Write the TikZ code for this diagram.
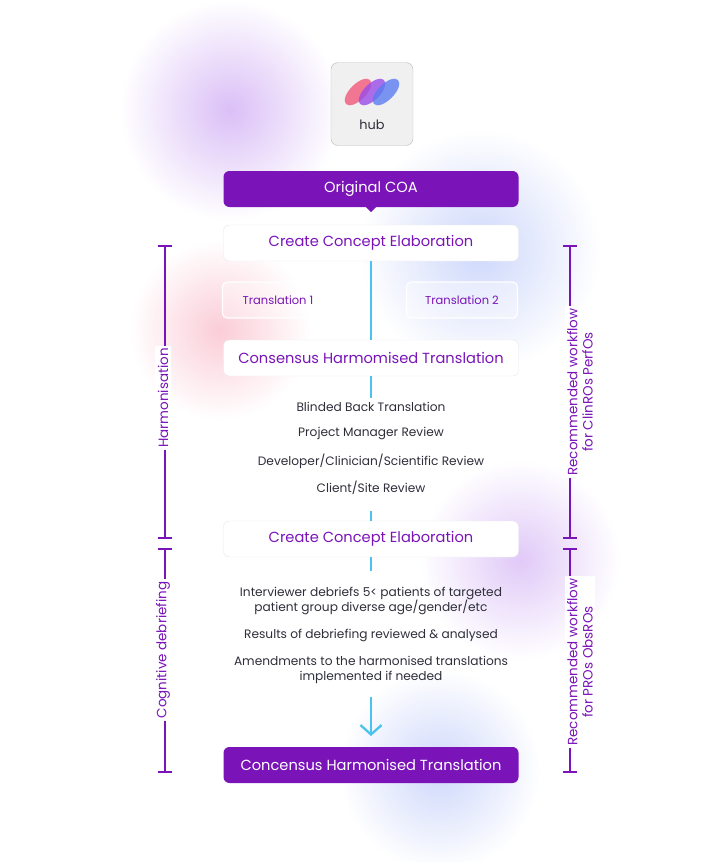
\documentclass[tikz,border=0pt]{standalone}
\usepackage{fontspec}
\setmainfont{Poppins}
\usetikzlibrary{positioning, arrows.meta, fadings}
\definecolor{HubPurple}{HTML}{7A14B8}
\definecolor{HubCyan}{HTML}{4CC3EE}
\definecolor{HubText}{HTML}{2E2E3A}
\definecolor{HubPink}{HTML}{F2587A}
\definecolor{HubBlue}{HTML}{5A7CF0}
\definecolor{HubViolet}{HTML}{9A4CE8}
\tikzfading[name=blob, inner color=transparent!40, outer color=transparent!100]
\tikzset{
  darkbox/.style={draw=none, fill=HubPurple, rounded corners=5pt, minimum width=295*0.03cm, minimum height=36*0.03cm, text=white, font=\fontsize{12.5}{14}\selectfont},
  lightbox/.style={draw=black!8, fill=white, rounded corners=5pt, minimum width=295*0.03cm, minimum height=36*0.03cm, text=HubPurple, font=\fontsize{12.5}{14}\selectfont},
  transbox/.style={draw=white, line width=1pt, fill=white, fill opacity=0.35, text opacity=1, rounded corners=4pt, minimum width=111*0.03cm, minimum height=36*0.03cm, text=HubPurple, font=\fontsize{9.8}{11}\selectfont},
  steptext/.style={text=HubText, align=center, font=\fontsize{10.4}{13.5}\selectfont},
  sidelabel/.style={text=HubPurple, rotate=90, fill=white, align=center, inner sep=2pt, font=\fontsize{11.5}{13}\selectfont},
  bracket/.style={HubPurple, line width=1pt},
  flowline/.style={HubCyan, line width=2pt},
  blobfill/.style={fill=#1, path fading=blob},
}
\begin{document}
\begin{tikzpicture}[x=0.03cm, y=-0.03cm]
    \useasboundingbox (0,0) rectangle (720,862);
    % soft background blobs
    \fill[blobfill=HubViolet!60] (230,110) circle (110);
    \fill[blobfill=HubBlue!50] (480,250) circle (120);
    \fill[blobfill=HubPink!50] (220,330) circle (90);
    \fill[blobfill=HubViolet!50] (520,560) circle (100);
    \fill[blobfill=HubBlue!50] (440,770) circle (100);

    % hub logo
    \node[draw=black!25, fill=black!6, rounded corners=6pt, minimum width=82*0.03cm, minimum height=83*0.03cm] (hub) at (372,104) {};
    \node[text=HubText, font=\fontsize{11}{12}\selectfont] (hubname) at (372,125) {hub};
    \foreach \dx/\col in {-14/HubPink, 0/HubViolet, 14/HubBlue}
        \fill[\col, opacity=0.8, rotate around={-45:(372+\dx,92)}] (372+\dx,92) ellipse (8 and 17);

    % boxes
    \node[darkbox] (coa) at (371,189) {Original COA};
    \node[lightbox] (elab1) at (371,243) {Create Concept Elaboration};
    \node[transbox] (trans1) at (278,300) {Translation 1};
    \node[transbox] (trans2) at (462,300) {Translation 2};
    \node[lightbox] (harm) at (371,358) {Consensus Harmomised Translation};

    \node[steptext] (blind) at (371,407) {Blinded Back Translation};
    \node[steptext] (pmrev) at (371,434) {Project Manager Review};
    \node[steptext] (devrev) at (371,461) {Developer/Clinician/Scientific Review};
    \node[steptext] (clirev) at (371,488) {Client/Site Review};

    \node[lightbox] (elab2) at (371,539) {Create Concept Elaboration};

    \node[steptext] (debrief) at (371,601) {Interviewer debriefs 5< patients of targeted\\patient group diverse age/gender/etc};
    \node[steptext] (results) at (371,635) {Results of debriefing reviewed \& analysed};
    \node[steptext] (amend) at (371,670) {Amendments to the harmonised translations\\implemented if needed};

    \node[darkbox] (final) at (371,765) {Concensus Harmonised Translation};

    % connectors
    \fill[HubPurple] (coa.south) ++(-5,0) -- ++(10,0) -- ++(-5,5) -- cycle;
    \draw[flowline] (elab1.south) -- (harm.north);
    \draw[flowline] (harm.south) -- (blind.north);
    \draw[flowline] (clirev.south) ++(0,12) -- (elab2.north);
    \draw[flowline] (elab2.south) -- ++(0,14);
    \coordinate (arrtop) at (371,697);
    \draw[HubCyan, line width=2pt, -{Straight Barb[length=8pt, width=18pt]}] (arrtop) -- (final.north |- 0,736);

    % side brackets
    \draw[bracket] (158,246) -- (172,246) (165,246) -- (165,538) (158,538) -- (172,538);
    \node[sidelabel] (harmlabel) at (163,398) {Harmonisation};
    \draw[bracket] (158,549) -- (172,549) (165,549) -- (165,772) (158,772) -- (172,772);
    \node[sidelabel] (coglabel) at (163,650) {Cognitive debriefing};
    \draw[bracket] (563,246) -- (577,246) (570,246) -- (570,538) (563,538) -- (577,538);
    \node[sidelabel] (clinlabel) at (580,392) {Recommended workflow\\for ClinROs PerfOs};
    \draw[bracket] (563,549) -- (577,549) (570,549) -- (570,772) (563,772) -- (577,772);
    \node[sidelabel] (prolabel) at (580,662) {Recommended workflow\\for PROs ObsROs};
\end{tikzpicture}
\end{document}
